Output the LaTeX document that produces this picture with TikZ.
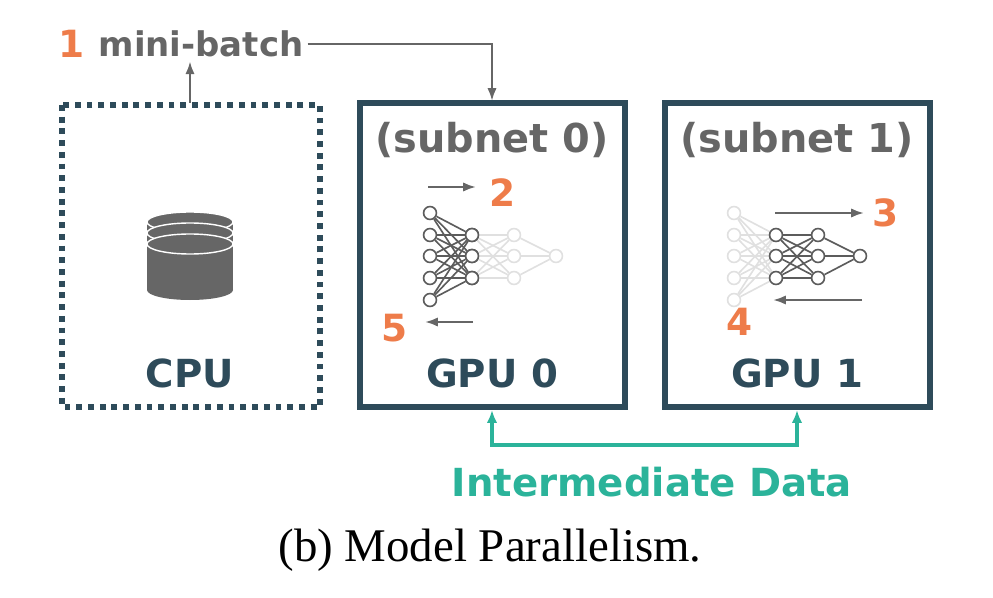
\documentclass[tikz,border=0pt]{standalone}
\usepackage{fontspec}
\setmainfont{DejaVu Sans}
\newfontfamily\capfont{Liberation Serif}
\usetikzlibrary{arrows.meta}
\definecolor{boxcol}{HTML}{2E4B5A}
\definecolor{numcol}{HTML}{EE7C4A}
\definecolor{txtcol}{HTML}{666666}
\definecolor{datacol}{HTML}{2BB39A}
\tikzset{
  box/.style={draw=boxcol,line width=5pt},
  neu/.style={circle,draw,line width=1.4pt,inner sep=0pt,minimum size=11pt},
  act/.style={draw=txtcol!90!black},
  dim/.style={draw=black!12},
  num/.style={text=numcol,font=\bfseries\fontsize{32}{36}\selectfont},
  lab/.style={text=boxcol,font=\bfseries\fontsize{33}{38}\selectfont},
  sub/.style={text=txtcol,font=\bfseries\fontsize{34}{38}\selectfont},
  flow/.style={draw=txtcol,line width=2pt,-{Latex[length=11pt,width=8pt]}},
}
\begin{document}
\begin{tikzpicture}[x=0.03cm,y=-0.03cm]
\useasboundingbox (0,0) rectangle (993,598);

% boxes
\draw[box,dash pattern=on 5pt off 5pt] (62,105) rectangle (320,407);
\draw[box] (360,103) rectangle (625,407);
\draw[box] (665,103) rectangle (930,407);
\coordinate (cpu) at (190,103);
\coordinate (gpu0) at (492,101);
\coordinate (gpu1) at (797,101);

\node[lab] (cpulab) at (190,373) {CPU};
\node[lab] (gpu0lab) at (492,373) {GPU 0};
\node[lab] (gpu1lab) at (797,373) {GPU 1};
\node[sub] (sub0) at (492,140) {(subnet 0)};
\node[sub] (sub1) at (797,140) {(subnet 1)};

% database
\fill[txtcol] (147,224) rectangle (233,290);
\fill[txtcol] (190,290) ellipse (43 and 10);
\foreach \y in {222,233,244}
  \filldraw[fill=txtcol,draw=white,line width=1.2pt] (190,\y) ellipse (43 and 10);

% mini-batch
\node[num] (one) at (72,44) {1};
\node[sub,font=\bfseries\fontsize{29}{32}\selectfont] (mb) at (201,44) {mini-batch};
\draw[flow] (cpu) -- (mb.south -| cpu);
\draw[flow] (mb.east) -- (mb.east -| gpu0) -- (gpu0);

% neural nets
\foreach \ox/\nm/\a/\b/\c in {0/l/act/dim/dim, 304/r/dim/act/act}{
  \foreach \i/\y in {1/213,2/235,3/256,4/278,5/300}
    \node[neu,\a] (\nm a\i) at (430+\ox,\y) {};
  \foreach \i/\y in {1/235,2/256,3/278}{
    \node[neu,\a] (\nm b\i) at (472+\ox,\y) {};
    \node[neu,\b] (\nm c\i) at (514+\ox,\y) {};
  }
  \node[neu,\c] (\nm d) at (556+\ox,256) {};
  \foreach \i in {1,...,5}
    \foreach \j in {1,2,3}
      \draw[\a,line width=1.4pt] (\nm a\i) -- (\nm b\j);
  \foreach \i in {1,2,3}{
    \foreach \j in {1,2,3}
      \draw[\b,line width=1.4pt] (\nm b\i) -- (\nm c\j);
    \draw[\c,line width=1.4pt] (\nm c\i) -- (\nm d);
  }
}
% redraw boundary nodes in the active colour
\foreach \i in {1,2,3}{
  \node[neu,act,fill=white] at (lb\i) {};
  \node[neu,act,fill=white] at (rb\i) {};
}

% steps
\coordinate (f0s) at (428,187); \coordinate (f0e) at (476,187);
\draw[flow] (f0s) -- (f0e);
\node[num] (two) at (503,193) {2};
\coordinate (b0s) at (473,322); \coordinate (b0e) at (425,322);
\draw[flow] (b0s) -- (b0e);
\node[num] (five) at (395,328) {5};
\coordinate (f1s) at (775,213); \coordinate (f1e) at (864,213);
\draw[flow] (f1s) -- (f1e);
\node[num] (three) at (886,213) {3};
\coordinate (b1s) at (862,300); \coordinate (b1e) at (773,300);
\draw[flow] (b1s) -- (b1e);
\node[num] (four) at (740,322) {4};

% intermediate data
\coordinate (g0b) at (492,410); \coordinate (g1b) at (797,410);
\draw[draw=datacol,line width=3.5pt,{Latex[length=11pt,width=9pt]}-{Latex[length=11pt,width=9pt]}]
  (g0b) -- (492,445) -- (797,445) -- (g1b);
\node[text=datacol,font=\bfseries\fontsize{33}{38}\selectfont] (idata) at (652,482) {Intermediate Data};

\node[font=\capfont\fontsize{40}{44}\selectfont] (cap) at (490,550) {(b)\ Model Parallelism.};
\end{tikzpicture}
\end{document}
